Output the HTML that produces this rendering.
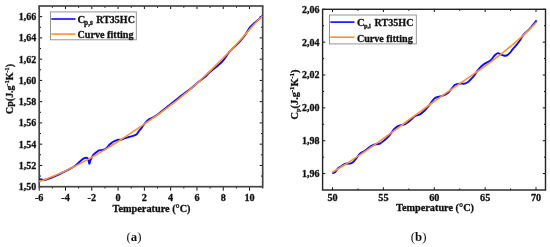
<!DOCTYPE html>
<html><head><meta charset="utf-8"><title>Specific heat capacity plots</title>
<style>
html,body{margin:0;padding:0;background:#fff;width:550px;height:247px;overflow:hidden}
svg{display:block}
</style></head><body>
<svg width="550" height="247" viewBox="0 0 550 247">
<g font-family="'Liberation Serif', 'Times New Roman', serif" font-weight="bold" font-size="10" fill="#111" stroke="#111" stroke-width="0.3">
<path d="M39.20,186.70V190.70M39.20,6.00V9.00M65.49,186.70V190.70M65.49,6.00V9.00M91.79,186.70V190.70M91.79,6.00V9.00M118.08,186.70V190.70M118.08,6.00V9.00M144.38,186.70V190.70M144.38,6.00V9.00M170.67,186.70V190.70M170.67,6.00V9.00M196.96,186.70V190.70M196.96,6.00V9.00M223.26,186.70V190.70M223.26,6.00V9.00M249.55,186.70V190.70M249.55,6.00V9.00M52.35,186.70V188.50M52.35,6.00V7.80M78.64,186.70V188.50M78.64,6.00V7.80M104.94,186.70V188.50M104.94,6.00V7.80M131.23,186.70V188.50M131.23,6.00V7.80M157.52,186.70V188.50M157.52,6.00V7.80M183.82,186.70V188.50M183.82,6.00V7.80M210.11,186.70V188.50M210.11,6.00V7.80M236.41,186.70V188.50M236.41,6.00V7.80M262.70,186.70V188.50M262.70,6.00V7.80M39.20,186.70H42.20M262.70,186.70H259.70M39.20,165.44H42.20M262.70,165.44H259.70M39.20,144.18H42.20M262.70,144.18H259.70M39.20,122.92H42.20M262.70,122.92H259.70M39.20,101.66H42.20M262.70,101.66H259.70M39.20,80.41H42.20M262.70,80.41H259.70M39.20,59.15H42.20M262.70,59.15H259.70M39.20,37.89H42.20M262.70,37.89H259.70M39.20,16.63H42.20M262.70,16.63H259.70M39.20,176.07H41.00M262.70,176.07H260.90M39.20,154.81H41.00M262.70,154.81H260.90M39.20,133.55H41.00M262.70,133.55H260.90M39.20,112.29H41.00M262.70,112.29H260.90M39.20,91.04H41.00M262.70,91.04H260.90M39.20,69.78H41.00M262.70,69.78H260.90M39.20,48.52H41.00M262.70,48.52H260.90M39.20,27.26H41.00M262.70,27.26H260.90" stroke="#111" stroke-width="1" fill="none"/>
<rect x="39.20" y="6.00" width="223.50" height="180.70" fill="none" stroke="#474747" stroke-width="1.70"/>
<text x="39.20" y="200.70" text-anchor="middle" font-size="10.2">-6</text>
<text x="65.49" y="200.70" text-anchor="middle" font-size="10.2">-4</text>
<text x="91.79" y="200.70" text-anchor="middle" font-size="10.2">-2</text>
<text x="118.08" y="200.70" text-anchor="middle" font-size="10.2">0</text>
<text x="144.38" y="200.70" text-anchor="middle" font-size="10.2">2</text>
<text x="170.67" y="200.70" text-anchor="middle" font-size="10.2">4</text>
<text x="196.96" y="200.70" text-anchor="middle" font-size="10.2">6</text>
<text x="223.26" y="200.70" text-anchor="middle" font-size="10.2">8</text>
<text x="249.55" y="200.70" text-anchor="middle" font-size="10.2">10</text>
<text x="36.20" y="190.10" text-anchor="end">1,50</text>
<text x="36.20" y="168.84" text-anchor="end">1,52</text>
<text x="36.20" y="147.58" text-anchor="end">1,54</text>
<text x="36.20" y="126.32" text-anchor="end">1,56</text>
<text x="36.20" y="105.06" text-anchor="end">1,58</text>
<text x="36.20" y="83.81" text-anchor="end">1,60</text>
<text x="36.20" y="62.55" text-anchor="end">1,62</text>
<text x="36.20" y="41.29" text-anchor="end">1,64</text>
<text x="36.20" y="20.03" text-anchor="end">1,66</text>
<path d="M39.00,179.20 C39.40,179.23 40.58,179.27 41.40,179.40 C42.22,179.53 42.63,180.12 43.90,180.00 C45.17,179.88 46.48,179.65 49.00,178.70 C51.52,177.75 55.67,175.85 59.00,174.30 C62.33,172.75 66.37,170.78 69.00,169.40 C71.63,168.02 73.13,167.18 74.80,166.00 C76.47,164.82 77.90,163.27 79.00,162.30 C80.10,161.33 80.58,160.85 81.40,160.20 C82.22,159.55 83.08,158.80 83.90,158.40 C84.72,158.00 85.60,157.70 86.30,157.80 C87.00,157.90 87.60,158.00 88.10,159.00 C88.60,160.00 88.90,163.60 89.30,163.80 C89.70,164.00 89.88,161.62 90.50,160.20 C91.12,158.78 92.08,156.58 93.00,155.30 C93.92,154.02 95.00,153.33 96.00,152.50 C97.00,151.67 97.90,150.72 99.00,150.30 C100.10,149.88 101.38,150.35 102.60,150.00 C103.82,149.65 105.08,149.15 106.30,148.20 C107.52,147.25 108.68,145.42 109.90,144.30 C111.12,143.18 112.38,142.22 113.60,141.50 C114.82,140.78 116.30,140.30 117.20,140.00 C118.10,139.70 118.30,139.75 119.00,139.70 C119.70,139.65 120.38,139.95 121.40,139.70 C122.42,139.45 123.83,138.65 125.10,138.20 C126.37,137.75 127.58,137.43 129.00,137.00 C130.42,136.57 132.33,136.05 133.60,135.60 C134.87,135.15 135.70,135.07 136.60,134.30 C137.50,133.53 138.20,132.03 139.00,131.00 C139.80,129.97 140.48,129.30 141.40,128.10 C142.32,126.90 143.23,125.27 144.50,123.80 C145.77,122.33 147.48,120.40 149.00,119.30 C150.52,118.20 151.93,118.15 153.60,117.20 C155.27,116.25 157.28,114.90 159.00,113.60 C160.72,112.30 162.23,110.73 163.90,109.40 C165.57,108.07 166.48,107.60 169.00,105.60 C171.52,103.60 175.67,100.00 179.00,97.40 C182.33,94.80 185.67,92.63 189.00,90.00 C192.33,87.37 196.32,83.78 199.00,81.60 C201.68,79.42 203.43,78.38 205.10,76.90 C206.77,75.42 207.58,74.02 209.00,72.70 C210.42,71.38 212.10,70.20 213.60,69.00 C215.10,67.80 216.50,66.80 218.00,65.50 C219.50,64.20 220.77,63.38 222.60,61.20 C224.43,59.02 227.37,54.47 229.00,52.40 C230.63,50.33 231.23,49.97 232.40,48.80 C233.57,47.63 234.90,46.48 236.00,45.40 C237.10,44.32 237.53,43.95 239.00,42.30 C240.47,40.65 243.10,37.85 244.80,35.50 C246.50,33.15 247.73,30.15 249.20,28.20 C250.67,26.25 252.02,25.25 253.60,23.80 C255.18,22.35 257.25,20.83 258.70,19.50 C260.15,18.17 261.70,16.42 262.30,15.80" stroke="#0a0aff" stroke-width="1.90" fill="none" stroke-linejoin="round"/>
<path d="M39.30,181.59 L43.08,180.23 L46.86,178.80 L50.64,177.30 L54.43,175.74 L58.21,174.12 L61.99,172.44 L65.77,170.70 L69.55,168.90 L73.33,167.05 L77.11,165.14 L80.89,163.18 L84.68,161.16 L88.46,159.10 L92.24,156.99 L96.02,154.84 L99.80,152.64 L103.58,150.40 L107.36,148.12 L111.15,145.80 L114.93,143.45 L118.71,141.05 L122.49,138.63 L126.27,136.17 L130.05,133.68 L133.83,131.17 L137.62,128.62 L141.40,126.05 L145.18,123.46 L148.96,120.85 L152.74,118.21 L156.52,115.55 L160.30,112.85 L164.08,110.11 L167.87,107.32 L171.65,104.47 L175.43,101.55 L179.21,98.56 L182.99,95.49 L186.77,92.33 L190.55,89.08 L194.34,85.73 L198.12,82.29 L201.90,78.78 L205.68,75.19 L209.46,71.55 L213.24,67.86 L217.02,64.13 L220.81,60.37 L224.59,56.57 L228.37,52.73 L232.15,48.82 L235.93,44.81 L239.71,40.71 L243.49,36.47 L247.27,32.11 L251.06,27.72 L254.84,23.50 L258.62,19.62 L262.40,16.27" stroke="#ff912e" stroke-width="1.60" fill="none"/>
<rect x="50.50" y="11.90" width="85.80" height="27.90" fill="#fff" stroke="#8a8a8a" stroke-width="0.9"/>
<path d="M51.30,19.00H75.50" stroke="#0a0aff" stroke-width="1.6"/>
<path d="M51.30,34.10H75.50" stroke="#ff912e" stroke-width="1.6"/>
<text x="77.50" y="22.70" font-size="10.60">C</text>
<text x="84.10" y="25.00" font-size="7.30">p,s</text>
<text x="96.30" y="22.70" font-size="10.60" textLength="38.60" lengthAdjust="spacingAndGlyphs">RT35HC</text>
<text x="77.50" y="37.70" font-size="10.60" textLength="56.10" lengthAdjust="spacingAndGlyphs">Curve fitting</text>
<path d="M332.50,190.00V187.30M332.50,9.30V12.00M383.38,190.00V187.30M383.38,9.30V12.00M434.25,190.00V187.30M434.25,9.30V12.00M485.13,190.00V187.30M485.13,9.30V12.00M536.01,190.00V187.30M536.01,9.30V12.00M357.94,190.00V188.50M357.94,9.30V10.80M408.82,190.00V188.50M408.82,9.30V10.80M459.69,190.00V188.50M459.69,9.30V10.80M510.57,190.00V188.50M510.57,9.30V10.80M322.60,173.57H325.30M545.50,173.57H542.80M322.60,140.72H325.30M545.50,140.72H542.80M322.60,107.86H325.30M545.50,107.86H542.80M322.60,75.01H325.30M545.50,75.01H542.80M322.60,42.15H325.30M545.50,42.15H542.80M322.60,9.30H325.30M545.50,9.30H542.80M322.60,157.15H324.10M545.50,157.15H544.00M322.60,124.29H324.10M545.50,124.29H544.00M322.60,91.44H324.10M545.50,91.44H544.00M322.60,58.58H324.10M545.50,58.58H544.00M322.60,25.73H324.10M545.50,25.73H544.00" stroke="#111" stroke-width="1" fill="none"/>
<rect x="322.60" y="9.30" width="222.90" height="180.70" fill="none" stroke="#222" stroke-width="1.40"/>
<text x="332.50" y="201.30" text-anchor="middle" font-size="10.2">50</text>
<text x="383.38" y="201.30" text-anchor="middle" font-size="10.2">55</text>
<text x="434.25" y="201.30" text-anchor="middle" font-size="10.2">60</text>
<text x="485.13" y="201.30" text-anchor="middle" font-size="10.2">65</text>
<text x="536.01" y="201.30" text-anchor="middle" font-size="10.2">70</text>
<text x="319.60" y="176.97" text-anchor="end">1,96</text>
<text x="319.60" y="144.12" text-anchor="end">1,98</text>
<text x="319.60" y="111.26" text-anchor="end">2,00</text>
<text x="319.60" y="78.41" text-anchor="end">2,02</text>
<text x="319.60" y="45.55" text-anchor="end">2,04</text>
<text x="319.60" y="12.70" text-anchor="end">2,06</text>
<path d="M332.20,173.20 C332.67,173.05 334.08,173.07 335.00,172.30 C335.92,171.53 336.78,169.52 337.70,168.60 C338.62,167.68 339.43,167.50 340.50,166.80 C341.57,166.10 342.98,164.95 344.10,164.40 C345.22,163.85 346.18,163.63 347.20,163.50 C348.22,163.37 349.30,163.75 350.20,163.60 C351.10,163.45 351.72,163.30 352.60,162.60 C353.48,161.90 354.28,160.88 355.50,159.40 C356.72,157.92 358.37,155.12 359.90,153.70 C361.43,152.28 363.28,151.85 364.70,150.90 C366.12,149.95 367.18,148.88 368.40,148.00 C369.62,147.12 370.90,146.18 372.00,145.60 C373.10,145.02 373.68,144.83 375.00,144.50 C376.32,144.17 378.28,144.37 379.90,143.60 C381.52,142.83 383.28,141.07 384.70,139.90 C386.12,138.73 387.18,137.92 388.40,136.60 C389.62,135.28 390.90,133.40 392.00,132.00 C393.10,130.60 393.68,129.28 395.00,128.20 C396.32,127.12 398.28,126.15 399.90,125.50 C401.52,124.85 403.28,124.90 404.70,124.30 C406.12,123.70 407.18,122.82 408.40,121.90 C409.62,120.98 410.90,119.75 412.00,118.80 C413.10,117.85 413.68,116.93 415.00,116.20 C416.32,115.47 418.28,115.35 419.90,114.40 C421.52,113.45 423.28,111.85 424.70,110.50 C426.12,109.15 427.18,107.82 428.40,106.30 C429.62,104.78 430.90,102.78 432.00,101.40 C433.10,100.02 433.68,98.82 435.00,98.00 C436.32,97.18 438.28,97.02 439.90,96.50 C441.52,95.98 443.28,95.57 444.70,94.90 C446.12,94.23 447.18,93.62 448.40,92.50 C449.62,91.38 450.90,89.48 452.00,88.20 C453.10,86.92 453.68,85.57 455.00,84.80 C456.32,84.03 458.28,83.80 459.90,83.60 C461.52,83.40 463.28,83.92 464.70,83.60 C466.12,83.28 467.18,82.60 468.40,81.70 C469.62,80.80 470.90,79.40 472.00,78.20 C473.10,77.00 474.10,75.73 475.00,74.50 C475.90,73.27 476.48,72.02 477.40,70.80 C478.32,69.58 479.48,68.27 480.50,67.20 C481.52,66.13 482.38,65.20 483.50,64.40 C484.62,63.60 485.98,63.10 487.20,62.40 C488.42,61.70 489.50,61.43 490.80,60.20 C492.10,58.97 493.80,56.18 495.00,55.00 C496.20,53.82 497.08,53.22 498.00,53.10 C498.92,52.98 499.58,53.90 500.50,54.30 C501.42,54.70 502.50,55.30 503.50,55.50 C504.50,55.70 505.48,55.90 506.50,55.50 C507.52,55.10 508.58,54.12 509.60,53.10 C510.62,52.08 511.70,50.48 512.60,49.40 C513.50,48.32 513.87,47.97 515.00,46.60 C516.13,45.23 518.07,43.08 519.40,41.20 C520.73,39.32 521.78,36.88 523.00,35.30 C524.22,33.72 525.37,33.03 526.70,31.70 C528.03,30.37 529.35,29.18 531.00,27.30 C532.65,25.42 535.67,21.55 536.60,20.40" stroke="#0a0aff" stroke-width="1.90" fill="none" stroke-linejoin="round"/>
<path d="M332.30,172.24 L335.76,170.21 L339.23,168.14 L342.69,166.02 L346.15,163.86 L349.61,161.65 L353.08,159.41 L356.54,157.13 L360.00,154.82 L363.46,152.48 L366.93,150.11 L370.39,147.71 L373.85,145.29 L377.32,142.84 L380.78,140.38 L384.24,137.89 L387.70,135.40 L391.17,132.88 L394.63,130.36 L398.09,127.83 L401.55,125.29 L405.02,122.74 L408.48,120.20 L411.94,117.65 L415.41,115.11 L418.87,112.57 L422.33,110.04 L425.79,107.51 L429.26,105.00 L432.72,102.51 L436.18,100.02 L439.64,97.56 L443.11,95.11 L446.57,92.69 L450.03,90.29 L453.49,87.91 L456.96,85.54 L460.42,83.17 L463.88,80.80 L467.35,78.43 L470.81,76.05 L474.27,73.65 L477.73,71.24 L481.20,68.80 L484.66,66.32 L488.12,63.82 L491.58,61.27 L495.05,58.67 L498.51,56.03 L501.97,53.32 L505.44,50.56 L508.90,47.73 L512.36,44.82 L515.82,41.84 L519.29,38.78 L522.75,35.63 L526.21,32.38 L529.67,29.04 L533.14,25.60 L536.60,22.04" stroke="#ff912e" stroke-width="1.60" fill="none"/>
<rect x="329.50" y="15.00" width="86.80" height="28.90" fill="#fff" stroke="#8a8a8a" stroke-width="0.9"/>
<path d="M330.30,22.10H354.50" stroke="#0a0aff" stroke-width="1.6"/>
<path d="M330.30,37.20H354.50" stroke="#ff912e" stroke-width="1.6"/>
<text x="356.90" y="25.90" font-size="10.60">C</text>
<text x="364.00" y="28.20" font-size="6.30">p,l</text>
<text x="374.60" y="25.90" font-size="10.60" textLength="38.90" lengthAdjust="spacingAndGlyphs">RT35HC</text>
<text x="356.90" y="41.60" font-size="10.60" textLength="55.80" lengthAdjust="spacingAndGlyphs">Curve fitting</text>
<text x="151.55" y="212.4" text-anchor="middle" font-size="10.5" textLength="78" lengthAdjust="spacingAndGlyphs">Temperature (°C)</text>
<text x="435" y="211.4" text-anchor="middle" font-size="10.5" textLength="78" lengthAdjust="spacingAndGlyphs">Temperature (°C)</text>
<text transform="translate(13.2,113.9) rotate(-90)" font-size="10.8" textLength="50" lengthAdjust="spacingAndGlyphs">Cp(J.g<tspan font-size="6.8" dy="-4">-1</tspan><tspan dy="4">K</tspan><tspan font-size="6.8" dy="-4">-1</tspan><tspan dy="4">)</tspan></text>
<text transform="translate(297.6,119.6) rotate(-90)" font-size="10.8" textLength="50" lengthAdjust="spacingAndGlyphs">C<tspan font-size="6.8" dy="2.5">p</tspan><tspan dy="-2.5">(J.g</tspan><tspan font-size="6.8" dy="-4">-1</tspan><tspan dy="4">K</tspan><tspan font-size="6.8" dy="-4">-1</tspan><tspan dy="4">)</tspan></text>
<text x="134" y="241.3" text-anchor="middle" font-size="12.8" font-weight="normal" stroke="none">(<tspan font-weight="bold">a</tspan>)</text>
<text x="418.6" y="241.3" text-anchor="middle" font-size="12.8" font-weight="normal" stroke="none">(<tspan font-weight="bold">b</tspan>)</text>
</g>
</svg>
</body></html>
